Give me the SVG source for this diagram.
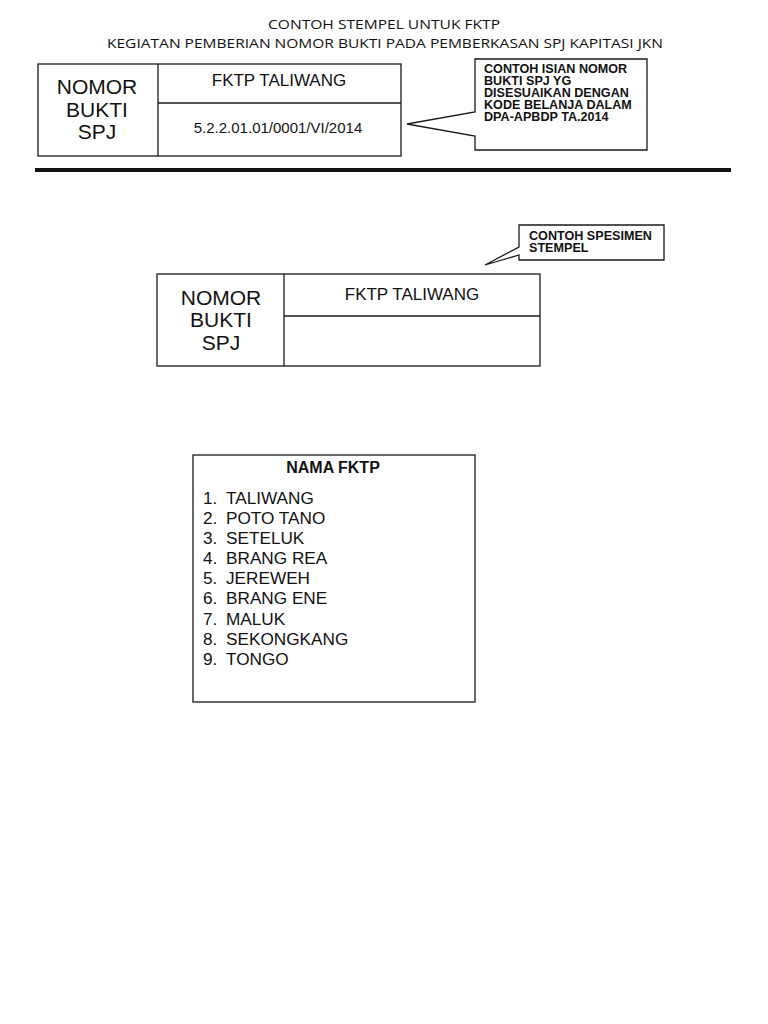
<svg xmlns="http://www.w3.org/2000/svg" width="768" height="1024" viewBox="0 0 768 1024">
<style>
.box{fill:#fff;stroke:#1a1a1a;stroke-width:1.3}
.ln{stroke:#1a1a1a;stroke-width:1.3;fill:none}
.hd{font-family:"Open Sans","Liberation Sans",sans-serif;font-size:13px;fill:#111;text-anchor:middle}
.big{font-family:"Liberation Sans",Arial,sans-serif;font-size:21px;fill:#111;text-anchor:middle}
.mid{font-family:"Liberation Sans",Arial,sans-serif;font-size:17px;fill:#111;text-anchor:middle}
.code{font-family:"Liberation Sans",Arial,sans-serif;font-size:15px;fill:#111;text-anchor:middle}
.cl{font-family:"Liberation Sans",Arial,sans-serif;font-size:12.6px;font-weight:bold;fill:#111}
.li{font-family:"Liberation Sans",Arial,sans-serif;font-size:17.2px;fill:#111}
.lh{font-family:"Liberation Sans",Arial,sans-serif;font-size:16px;font-weight:bold;fill:#111;text-anchor:middle}
</style>
<rect width="768" height="1024" fill="#fff"/>
<g id="title">
<text class="hd" x="384" y="29" textLength="232" lengthAdjust="spacingAndGlyphs">CONTOH STEMPEL UNTUK FKTP</text>
<text class="hd" x="385" y="48" textLength="556" lengthAdjust="spacingAndGlyphs">KEGIATAN PEMBERIAN NOMOR BUKTI PADA PEMBERKASAN SPJ KAPITASI JKN</text>
</g>
<g id="stamp1">
<rect class="box" x="38" y="64" width="363" height="92"/>
<line class="ln" x1="158" y1="64" x2="158" y2="156"/>
<line class="ln" x1="158" y1="103" x2="401" y2="103"/>
<text class="big" x="97" y="94">NOMOR</text>
<text class="big" x="97" y="117">BUKTI</text>
<text class="big" x="97" y="139">SPJ</text>
<text class="mid" x="279" y="86">FKTP TALIWANG</text>
<text class="code" x="278" y="133">5.2.2.01.01/0001/VI/2014</text>
</g>
<g id="callout1">
<path class="box" d="M475,59 H647 V150 H475 V136 L407,124 L475,112 Z"/>
<text class="cl" x="484" y="73">CONTOH ISIAN NOMOR</text>
<text class="cl" x="484" y="85">BUKTI SPJ YG</text>
<text class="cl" x="484" y="97">DISESUAIKAN DENGAN</text>
<text class="cl" x="484" y="109">KODE BELANJA DALAM</text>
<text class="cl" x="484" y="121">DPA-APBDP TA.2014</text>
</g>
<g id="separator">
<line x1="35" y1="170" x2="731" y2="170" stroke="#111" stroke-width="4"/>
</g>
<g id="callout2">
<path class="box" d="M519,225 H664 V260 H519 V255 L485,265 L519,247 Z"/>
<text class="cl" x="529" y="240">CONTOH SPESIMEN</text>
<text class="cl" x="529" y="252">STEMPEL</text>
</g>
<g id="stamp2">
<rect class="box" x="157" y="274" width="383" height="92"/>
<line class="ln" x1="284" y1="274" x2="284" y2="366"/>
<line class="ln" x1="284" y1="316" x2="540" y2="316"/>
<text class="big" x="221" y="305">NOMOR</text>
<text class="big" x="221" y="327">BUKTI</text>
<text class="big" x="221" y="350">SPJ</text>
<text class="mid" x="412" y="300">FKTP TALIWANG</text>
</g>
<g id="list">
<rect class="box" x="193" y="455" width="282" height="247"/>
<text class="lh" x="333" y="473">NAMA FKTP</text>
<text class="li" x="203" y="504">1.</text><text class="li" x="226" y="504">TALIWANG</text>
<text class="li" x="203" y="524">2.</text><text class="li" x="226" y="524">POTO TANO</text>
<text class="li" x="203" y="544">3.</text><text class="li" x="226" y="544">SETELUK</text>
<text class="li" x="203" y="564">4.</text><text class="li" x="226" y="564">BRANG REA</text>
<text class="li" x="203" y="584">5.</text><text class="li" x="226" y="584">JEREWEH</text>
<text class="li" x="203" y="604">6.</text><text class="li" x="226" y="604">BRANG ENE</text>
<text class="li" x="203" y="625">7.</text><text class="li" x="226" y="625">MALUK</text>
<text class="li" x="203" y="645">8.</text><text class="li" x="226" y="645">SEKONGKANG</text>
<text class="li" x="203" y="665">9.</text><text class="li" x="226" y="665">TONGO</text>
</g>
</svg>
